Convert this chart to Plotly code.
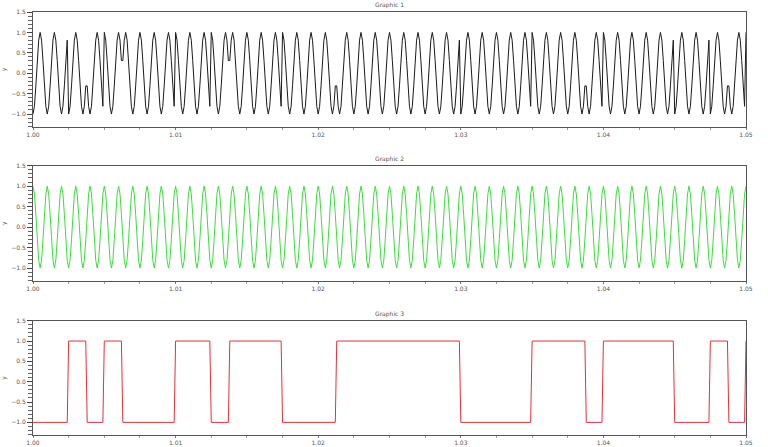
import numpy as np
import plotly.graph_objs as go
from plotly.subplots import make_subplots

# bit stream read from Graphic 3 (one bit = 0.00125 s)
bits = [-1, -1, 1, -1, 1, -1, -1, -1, 1, 1,
        -1, 1, 1, 1, -1, -1, -1, 1, 1, 1,
        1, 1, 1, 1, -1, -1, -1, -1, 1, 1,
        1, -1, 1, 1, 1, 1, -1, -1, 1, -1,
        1]
# one carrier period as sampled (10 samples per period), read from Graphic 2
carrier_cycle = [1.0, 0.81, 0.31, -0.31, -0.81, -1.0, -0.81, -0.31, 0.31, 0.81]
t_start = 1.00
t_step = 0.0001
n_samples = 501
samples_per_bit = 12.5

titles = ['Graphic 1', 'Graphic 2', 'Graphic 3']
x_ticks = [1.00, 1.01, 1.02, 1.03, 1.04, 1.05]
y_ticks = [-1.0, -0.5, 0.0, 0.5, 1.0, 1.5]

n = np.arange(n_samples)
t = t_start + n * t_step
carrier = np.array([carrier_cycle[i % len(carrier_cycle)] for i in n])
data = np.array([bits[int(i // samples_per_bit)] for i in n])
modulated = carrier * data

W, H = 768, 447
L, R, T, B = 33, 22, 12, 12
PH = H - T - B
boxes = [(11.7, 126.7), (165.7, 280.7), (320.7, 435.0)]  # top, bottom in px

fig = make_subplots(rows=3, cols=1)
series = [modulated, carrier, data]
colors = ['#1a1a1a', '#3ddc3d', '#e0323c']
for i in range(3):
    fig.add_trace(go.Scatter(x=t, y=series[i], mode='lines',
                             line={'color': colors[i], 'width': 1},
                             showlegend=False), row=i + 1, col=1)

font = dict(family='DejaVu Sans', size=6, color='#555555')
layout = dict(width=W, height=H, margin=dict(l=L, r=R, t=T, b=B),
              plot_bgcolor='white', paper_bgcolor='white', font=font)
annotations = []
for i, (top, bot) in enumerate(boxes):
    k = '' if i == 0 else str(i + 1)
    d0 = max(0.0, (H - B - bot) / PH)
    d1 = min(1.0, (H - B - top) / PH)
    layout['xaxis' + k] = dict(
        domain=[0, 1], range=[1.0, 1.05], tickvals=x_ticks, automargin=False,
        tickformat='.2f', showgrid=False, zeroline=False,
        showline=True, linecolor='#555555', linewidth=1, mirror=True,
        ticks='outside', ticklen=2, tickcolor='#777777',
        minor=dict(dtick=0.0025, ticks='outside', ticklen=2, tickcolor='#999999'),
        tickfont=font)
    layout['yaxis' + k] = dict(
        domain=[d0, d1], range=[-1.31, 1.5], automargin=False,
        tickvals=y_ticks, tickformat='.1f', showgrid=False, zeroline=False,
        showline=True, linecolor='#555555', linewidth=1, mirror=True,
        ticks='outside', ticklen=5, tickcolor='#444444',
        minor=dict(dtick=0.1, ticks='outside', ticklen=4, tickcolor='#666666'),
        tickfont=font, title=dict(text='y', font=font, standoff=4))
    annotations.append(dict(text=titles[i], x=0.5, xref='paper',
                            y=d1, yref='paper', yanchor='bottom',
                            yshift=1, showarrow=False, font=font))
layout['annotations'] = annotations
fig.update_layout(**layout)
fig.write_html('out.html', config={'displayModeBar': False},
               post_script="document.body.style.margin='0';"
                           "document.body.style.overflow='hidden';")
